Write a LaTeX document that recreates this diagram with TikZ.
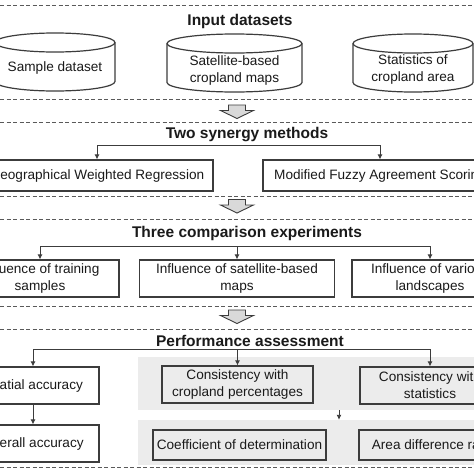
\documentclass[tikz,border=0pt]{standalone}
\usepackage{fontspec}
\setmainfont{Liberation Sans}
\usetikzlibrary{arrows.meta}
\definecolor{ln}{HTML}{3C3C3C}
\definecolor{sepc}{HTML}{5A5A5A}
\definecolor{txt}{HTML}{1A1A1A}
\definecolor{blkfill}{HTML}{D9D9D9}
\definecolor{pan}{HTML}{ECECEC}
\newcommand{\blkarrow}[1]{\draw[blk] (228.5,#1) -- (245.5,#1) -- (245.5,#1+5.5) -- (253.5,#1+5.5) -- (237,#1+13.5) -- (220.5,#1+5.5) -- (228.5,#1+5.5) -- cycle;}
\begin{document}
\begin{tikzpicture}[x=1pt,y=-1pt,
  box/.style={draw=ln, line width=1.2pt, inner sep=0pt, align=center, font=\fontsize{13.6}{17}\selectfont, text=txt},
  lbl/.style={inner sep=0pt, align=center, font=\fontsize{13.6}{17}\selectfont, text=txt},
  ttl/.style={inner sep=0pt, font=\fontsize{15.5}{18}\selectfont\bfseries, text=txt},
  sep/.style={draw=sepc, line width=1pt, dash pattern=on 4pt off 2.5pt},
  conn/.style={draw=ln, line width=0.9pt},
  arr/.style={conn, -{Latex[length=5pt,width=5pt]}},
  blk/.style={draw=ln, line width=0.9pt, fill=blkfill, line join=miter},
  cyl/.style={draw=ln, line width=1.2pt},
  panel/.style={fill=pan, inner sep=0pt, draw=none}]
\useasboundingbox (0,0) rectangle (474,474);
\clip (0,0) rectangle (474,474);
\fill[white] (0,0) rectangle (474,474);

% separators
\foreach \yy in {5,99,122,196,219,306,329,467} \draw[sep] (0,\yy) -- (474,\yy);

% block arrows
\blkarrow{105}
\blkarrow{199.5}
\blkarrow{310}

% ---------------- Input datasets
\node[ttl] (t1) at (240,21) {Input datasets};
\draw[cyl] (55,42.5) ellipse [x radius=60, y radius=9.5];
\draw[cyl] (-5,42.5) -- (-5,81.5) arc[start angle=180, end angle=0, x radius=60, y radius=9.5] -- (115,42.5);
\draw[cyl] (234.5,43.5) ellipse [x radius=67.5, y radius=9.5];
\draw[cyl] (167,43.5) -- (167,82.5) arc[start angle=180, end angle=0, x radius=67.5, y radius=9.5] -- (302,43.5);
\draw[cyl] (413,43.5) ellipse [x radius=60, y radius=9.5];
\draw[cyl] (353,43.5) -- (353,82.5) arc[start angle=180, end angle=0, x radius=60, y radius=9.5] -- (473,43.5);
\node[lbl] (sd) at (55,68) {Sample dataset};
\node[lbl] (sbc) at (234.5,70) {Satellite-based\\cropland maps};
\node[lbl] (sca) at (413,69) {Statistics of\\cropland area};

% ---------------- Two synergy methods
\node[ttl] (t2) at (247,135) {Two synergy methods};
\node[box, minimum width=232pt, minimum height=31pt] (gwr) at (97,175.5) {Geographical Weighted Regression};
\node[box, minimum width=234pt, minimum height=31pt] (mfas) at (380,175.5) {Modified Fuzzy Agreement Scoring};
\coordinate (b2) at (0,145);
\draw[conn] (b2 -| gwr.north) -- (b2 -| mfas.north);
\draw[arr] (b2 -| gwr.north) -- (gwr.north);
\draw[arr] (b2 -| mfas.north) -- (mfas.north);

% ---------------- Three comparison experiments
\node[ttl] (t3) at (247,233) {Three comparison experiments};
\node[box, minimum width=158pt, minimum height=37pt] (ts) at (40,278.5) {Influence of training\\samples};
\node[box, minimum width=195pt, minimum height=37pt] (sbm) at (237,278.5) {Influence of satellite-based\\maps};
\node[box, minimum width=156pt, minimum height=37pt] (vl) at (430,278.5) {Influence of various\\landscapes};
\coordinate (b3) at (0,246);
\draw[conn] (b3 -| ts.north) -- (b3 -| vl.north);
\draw[arr] (b3 -| ts.north) -- (ts.north);
\draw[arr] (b3 -| sbm.north) -- (sbm.north);
\draw[arr] (b3 -| vl.north) -- (vl.north);

% ---------------- Performance assessment
\node[ttl] (t4) at (250,341) {Performance assessment};
\node[panel, minimum width=342pt, minimum height=53pt] (p1) at (309,383.5) {};
\node[panel, minimum width=342pt, minimum height=45pt] (p2) at (309,442.5) {};
\node[box, minimum width=132pt, minimum height=37pt] (sa) at (33,385.5) {Spatial accuracy};
\node[box, minimum width=151pt, minimum height=37pt] (ccp) at (237.5,384.5) {Consistency with\\cropland percentages};
\node[box, minimum width=140pt, minimum height=37pt] (cs) at (430,385.5) {Consistency with\\statistics};
\node[box, minimum width=132pt, minimum height=37pt] (oa) at (33,443.5) {Overall accuracy};
\node[box, minimum width=173pt, minimum height=30pt] (cod) at (239.5,445) {Coefficient of determination};
\node[box, minimum width=148pt, minimum height=30pt] (adr) at (433,445) {Area difference ratio};
\coordinate (b4) at (0,349);
\draw[conn] (b4 -| sa.north) -- (b4 -| cs.north);
\draw[arr] (b4 -| sa.north) -- (sa.north);
\draw[arr] (b4 -| ccp.north) -- (ccp.north);
\draw[arr] (b4 -| cs.north) -- (cs.north);
\draw[arr] (sa.south) -- (oa.north);
\coordinate (sm) at (339,0);
\draw[arr] (p1.south -| sm) -- (p2.north -| sm);
\end{tikzpicture}
\end{document}
